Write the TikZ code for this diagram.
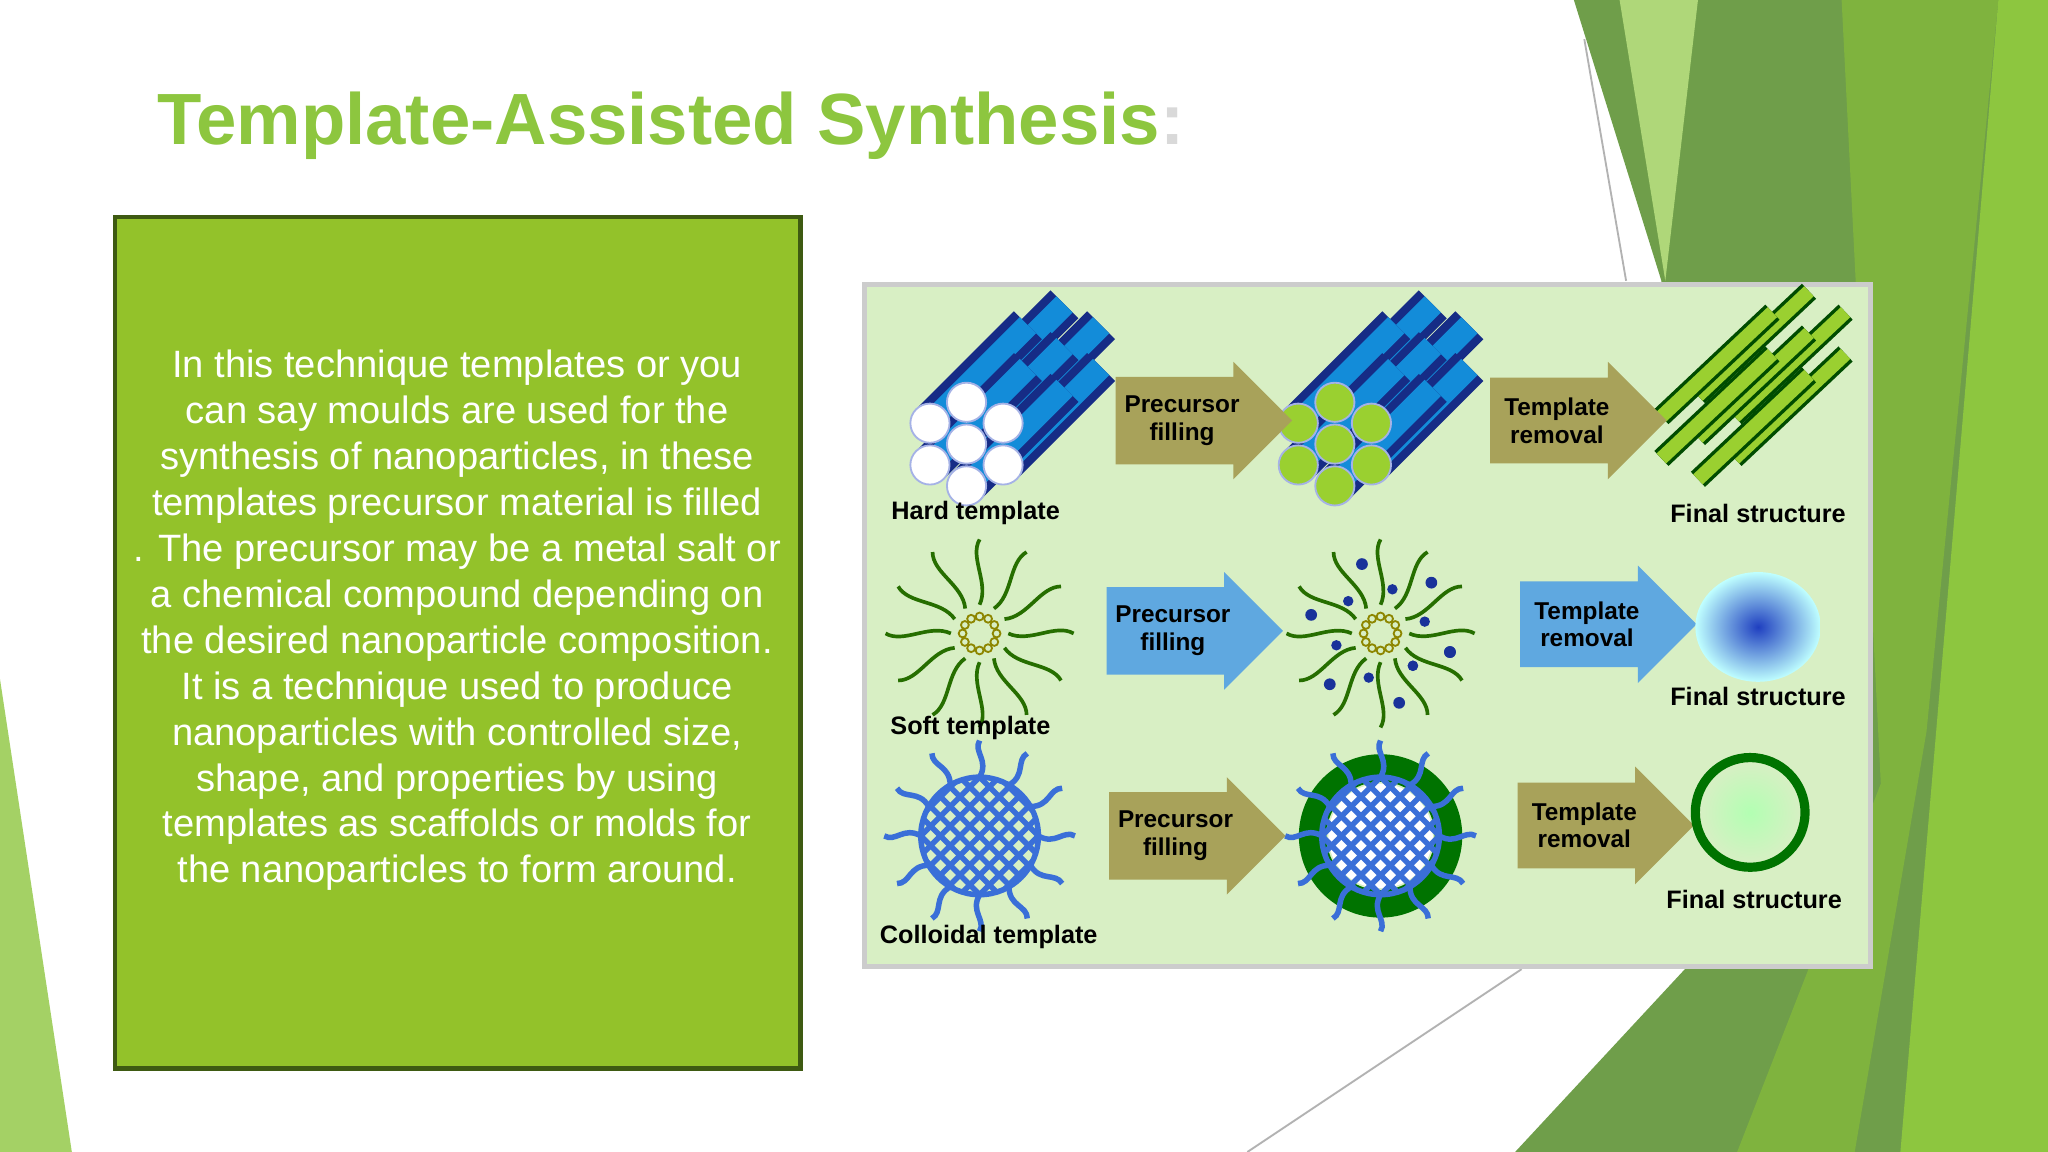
\documentclass[tikz,border=0pt]{standalone}
\usepackage{fontspec}
\setmainfont{Liberation Sans}
\usetikzlibrary{shapes.arrows}
\definecolor{titlegreen}{HTML}{8DC63F}
\definecolor{boxgreen}{HTML}{93C22A}
\definecolor{darkgreen}{HTML}{3E5A12}
\definecolor{panel}{HTML}{D8EFC4}
\definecolor{olivearrow}{HTML}{A8A25A}
\definecolor{bluearrow}{HTML}{5FA8E0}
\definecolor{tubeblue}{HTML}{1F3FC0}
\definecolor{rodgreen}{HTML}{9AD030}
\definecolor{meshblue}{HTML}{3A6FD8}
\definecolor{bgdark}{HTML}{6F9E4A}
\definecolor{bgmid}{HTML}{7FB33E}
\tikzstyle{blockarrow}=[single arrow,minimum height=1.35cm,minimum width=0.9cm,single arrow head extend=0.08cm,inner sep=1pt,align=center,font=\fontsize{5.3}{6}\selectfont\bfseries]
\tikzstyle{caption}=[font=\fontsize{5.5}{6.5}\selectfont\bfseries,text=black]
\begin{document}
\begin{tikzpicture}[x=0.01cm,y=-0.01cm]
\useasboundingbox (0,0) rectangle (1568,882);
% background shapes
\fill[white] (0,0) rectangle (1568,882);
\fill[bgdark] (1205,0) -- (1568,0) -- (1568,882) -- (1160,882) -- (1290,742) -- (1272,215) -- cycle;
\fill[bgmid] (1410,0) -- (1530,0) -- (1475,560) -- (1420,882) -- (1330,882) -- (1440,600) -- cycle;
\fill[titlegreen] (1530,0) -- (1568,0) -- (1568,882) -- (1455,882) -- cycle;
\fill[titlegreen!70] (1240,0) -- (1300,0) -- (1275,215) -- cycle;
\fill[titlegreen!80] (0,520) -- (55,882) -- (0,882) -- cycle;
\draw[gray!60] (1213,30) -- (1245,215);
\draw[gray!60] (955,882) -- (1165,742);
% title
\node[anchor=west,font=\fontsize{15.8}{19}\selectfont\bfseries,text=titlegreen] (title) at (108,96) {Template-Assisted Synthesis\textcolor{gray!30}{:}};
% text box
\draw[fill=boxgreen,draw=darkgreen,line width=1pt] (88,166) rectangle (613,818);
\node[text=white,align=center,font=\fontsize{8.3}{10}\selectfont] (body) at (350,475) {In this technique templates or you\\can say moulds are used for the\\synthesis of nanoparticles, in these\\templates precursor material is filled\\. The precursor may be a metal salt or\\a chemical compound depending on\\the desired nanoparticle composition.\\It is a technique used to produce\\nanoparticles with controlled size,\\shape, and properties by using\\templates as scaffolds or molds for\\the nanoparticles to form around.};
% diagram panel
\draw[fill=panel,draw=gray!40,line width=1pt] (662,218) rectangle (1432,740);
% hard template row
\foreach \cx/\fc in {740/white,1022/rodgreen}{
  \foreach \dx/\dy in {0/-32,28/-16,-28/-16,0/0,28/16,-28/16,0/32}{
    \draw[tubeblue!70!black,line width=8.6pt] (\cx+\dx,340+\dy) -- (\cx+\dx+75,340+\dy-75);
    \draw[tubeblue!60!cyan,line width=5pt] (\cx+\dx,340+\dy) -- (\cx+\dx+75,340+\dy-75);
  }
  \foreach \dx/\dy in {0/-32,28/-16,-28/-16,0/0,28/16,-28/16,0/32}{
    \draw[fill=\fc,draw=tubeblue!40] (\cx+\dx,340+\dy) circle (15);
  }
}
\foreach \dx/\dy in {0/-32,28/-16,-28/-16,0/0,28/16,-28/16,0/32}{
  \draw[green!30!black,line width=4.5pt] (1300+\dx,335+\dy) -- (1385+\dx,255+\dy);
  \draw[rodgreen,line width=3pt] (1300+\dx,335+\dy) -- (1385+\dx,255+\dy);
}
\node[blockarrow,fill=olivearrow] (hardfill) at (905,322) {Precursor\\filling};
\node[blockarrow,fill=olivearrow] (hardremove) at (1192,322) {Template\\removal};
\node[caption] (hardlabel) at (747,393) {Hard template};
\node[caption] (hardfinal) at (1346,393) {Final structure};
% soft template row
\foreach \cx/\dots in {750/0,1057/1}{
  \foreach \a in {0,30,...,330}{
    \draw[green!40!black!70!olive,line width=0.8pt] (\cx,485) ++(\a:22) .. controls ++(\a+25:18) and ++(\a-150:16) .. ++(\a:50);
    \draw[fill=panel,draw=olive] (\cx,485) ++(\a:13) circle (3);
  }
  \ifnum\dots=1
    \foreach \a in {15,75,...,375}{\fill[tubeblue!80!black] (\cx,485) ++(\a:55) circle (4.5);}
    \foreach \a in {45,105,...,405}{\fill[tubeblue!80!black] (\cx,485) ++(\a:35) circle (4);}
  \fi
}
\node[blockarrow,fill=bluearrow] (softfill) at (898,483) {Precursor\\filling};
\node[blockarrow,fill=bluearrow] (softremove) at (1215,478) {Template\\removal};
\shade[inner color=tubeblue,outer color=cyan!25] (1346,480) ellipse (48 and 42);
\node[caption] (softlabel) at (743,557) {Soft template};
\node[caption] (softfinal) at (1346,533) {Final structure};
% colloidal template row
\foreach \cx/\shell in {750/0,1057/1}{
  \ifnum\shell=1 \draw[green!45!black,line width=6pt] (\cx,640) circle (52); \fill[white] (\cx,640) circle (40);\fi
  \begin{scope}
    \clip (\cx,640) circle (45);
    \foreach \k in {-90,-75,...,90}{
      \draw[meshblue,line width=1.2pt] (\cx+\k-60,640-60) -- (\cx+\k+60,640+60);
      \draw[meshblue,line width=1.2pt] (\cx+\k-60,640+60) -- (\cx+\k+60,640-60);
    }
  \end{scope}
  \draw[meshblue,line width=1.2pt] (\cx,640) circle (45);
  \foreach \a in {0,30,...,330}{
    \draw[meshblue,line width=1.2pt] (\cx,640) ++(\a:45) .. controls ++(\a+30:15) and ++(\a-150:10) .. ++(\a:28);
  }
}
\node[blockarrow,fill=olivearrow] (colfill) at (900,640) {Precursor\\filling};
\node[blockarrow,fill=olivearrow] (colremove) at (1213,632) {Template\\removal};
\shade[inner color=green!30,outer color=panel] (1340,622) circle (40);
\draw[green!45!black,line width=2pt] (1340,622) circle (42);
\node[caption] (collabel) at (757,717) {Colloidal template};
\node[caption] (colfinal) at (1343,689) {Final structure};
\end{tikzpicture}
\end{document}
